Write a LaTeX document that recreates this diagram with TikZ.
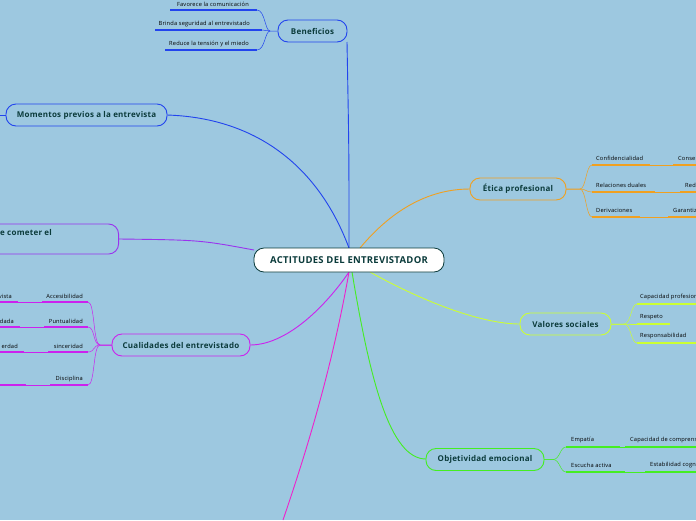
\documentclass[tikz,border=0pt]{standalone}
\usepackage{fontspec}
\setmainfont{Open Sans}
\definecolor{bg}{HTML}{9DC8E0}
\definecolor{txt}{HTML}{0B3B3B}
\definecolor{cB}{HTML}{2244EE}
\definecolor{cP}{HTML}{9933EE}
\definecolor{cM}{HTML}{CC22EE}
\definecolor{cK}{HTML}{EE22CC}
\definecolor{cO}{HTML}{F0A020}
\definecolor{cY}{HTML}{CCFF33}
\definecolor{cG}{HTML}{44EE22}
\begin{document}
\begin{tikzpicture}[x=1pt,y=-1pt,
 main/.style={draw,line width=0.9pt,rounded corners=10pt,fill=bg,text=txt,font=\fontsize{8}{9}\selectfont\bfseries\addfontfeature{LetterSpace=3},inner sep=0pt},
 leaf/.style={text=black,font=\fontsize{5.7}{6}\selectfont\addfontfeature{LetterSpace=3},anchor=south west,inner sep=1pt},
 ul/.style={line width=1.6pt},
 br/.style={line width=0.5pt}]
\useasboundingbox (0,0) rectangle (696,520);
\clip (0,0) rectangle (696,520);
\fill[bg] (0,0) rectangle (696,520);
% connectors first
\draw[cB,line width=0.9pt] (349,248) .. controls (349,150) .. (347,42);
\draw[cB,line width=0.9pt] (349,248) .. controls (320,170) and (260,118) .. (167,115);
\draw[cB,line width=0.9pt] (0,115) -- (6,115);
\draw[cP,line width=0.9pt] (254,250) .. controls (200,240) .. (119,239);
\draw[cM,line width=0.9pt] (349,272) .. controls (330,300) and (290,345) .. (250,345);
\draw[cK,line width=0.9pt] (349,272) .. controls (330,380) and (300,470) .. (283,520);
\draw[cO,line width=0.9pt] (360,248) .. controls (400,200) and (440,189) .. (470,189);
\draw[cY,line width=0.9pt] (370,272) .. controls (420,300) and (480,324) .. (520,324);
\draw[cG,line width=0.9pt] (352,272) .. controls (370,380) and (390,459) .. (426,459);
% main nodes
\node[main,draw=txt,fill=white,minimum width=190pt,minimum height=24pt,line width=0.8pt,font=\fontsize{9.5}{10}\selectfont\bfseries\addfontfeature{LetterSpace=3}] (c) at (349,260) {ACTITUDES DEL ENTREVISTADOR};
\node[main,draw=cB,minimum width=69pt,minimum height=22pt] (ben) at (312.5,31) {Beneficios};
\node[main,draw=cB,minimum width=161pt,minimum height=22pt] (mom) at (86.5,115) {Momentos previos a la entrevista};
\node[main,draw=cP,minimum width=160pt,minimum height=30pt,anchor=east] (err) at (119,239) {};
\node[text=txt,font=\fontsize{8}{9}\selectfont\bfseries\addfontfeature{LetterSpace=3},anchor=west,inner sep=0pt] (errt) at (0,232) {e cometer el};
\node[main,draw=cM,minimum width=138pt,minimum height=22pt] (cua) at (181,345) {Cualidades del entrevistado};
\node[main,draw=cO,minimum width=96pt,minimum height=22pt] (eti) at (518,189) {Ética profesional};
\node[main,draw=cY,minimum width=91pt,minimum height=22pt] (val) at (565.5,324) {Valores sociales};
\node[main,draw=cG,minimum width=118pt,minimum height=22pt] (obj) at (485,459.5) {Objetividad emocional};
% Beneficios leaves
\node[leaf,anchor=south east] (b1) at (250,8) {Favorece la comunicación};
\node[leaf,anchor=south east] (b2) at (251,28) {Brinda seguridad al entrevistado};
\node[leaf,anchor=south east] (b3) at (250,48) {Reduce la tensión y el miedo};
\draw[cB,ul] (170,10) -- (257,10); \draw[cB,ul] (155,30) -- (262,30); \draw[cB,ul] (165,50) -- (257,50);
\draw[cB,br] (ben.west) -- (270,31) .. controls (265,31) and (265,10) .. (257,10);
\draw[cB,br] (270,31) .. controls (266,31) .. (262,30);
\draw[cB,br] (270,31) .. controls (265,31) and (265,50) .. (257,50);
% Cualidades leaves
\foreach \t/\y/\a/\l/\e in {Accesibilidad/302/42/vista/18,Puntualidad/327/44/rdada/20,sinceridad/352/48/erdad/24,Disciplina/385/50/{}/26}{
 \draw[cM,ul] (\a,\y) -- (88,\y);
 \draw[cM,ul] (0,\y) -- (\e,\y);
 \draw[cM,br] (\e,\y) -- (\a,\y);
 \node[leaf,anchor=south east] at (84,\y-2) {\t};
 \node[leaf,anchor=south east] at (\e-5,\y-2) {\l};
 \draw[cM,br] (112,345) -- (100,345) .. controls (93,345) and (95,\y) .. (88,\y);
}
% Etica leaves
\foreach \t/\u/\y/\e/\x in {Confidencialidad/Consei/165/650/673,Relaciones duales/Redu/192/655/680,Derivaciones/Garantiza/217/640/668}{
 \draw[cO,ul] (592,\y) -- (\e,\y); \draw[cO,ul] (\x,\y) -- (696,\y);
 \draw[cO,br] (\e,\y) -- (\x,\y);
 \node[leaf] at (595,\y-3) {\t};
 \node[leaf] at (\x+4,\y-3) {\u};
 \draw[cO,br] (566,189) -- (580,189) .. controls (586,189) and (586,\y) .. (592,\y);
}
% Valores leaves
\foreach \t/\y/\e in {Capacidad profesional/304/696,Respeto/324/670,Responsabilidad/343/696}{
 \draw[cY,ul] (637,\y) -- (\e,\y);
 \node[leaf] at (639,\y-3) {\t};
 \draw[cY,br] (611,324) -- (624,324) .. controls (631,324) and (631,\y) .. (637,\y);
}
% Objetividad leaves
\foreach \t/\u/\y/\e/\x in {Empatía/Capacidad de comprensión/447/620/625,Escucha activa/Estabilidad cognitiva/472/625/645}{
 \draw[cG,ul] (566,\y) -- (\e,\y); \draw[cG,ul] (\x,\y) -- (696,\y);
 \draw[cG,br] (\e,\y) -- (\x,\y);
 \node[leaf] at (570,\y-3) {\t};
 \node[leaf] at (\x+4,\y-3) {\u};
 \draw[cG,br] (544,459.5) -- (553,459.5) .. controls (560,459.5) and (560,\y) .. (566,\y);
}
\end{tikzpicture}
\end{document}
